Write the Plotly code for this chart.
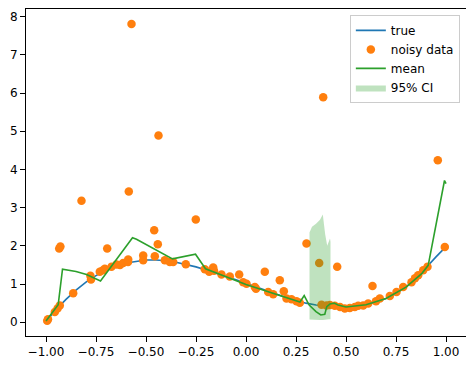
import plotly.graph_objects as go

# true function
true_x = [-1.0, -0.95, -0.9, -0.85, -0.8, -0.75, -0.7, -0.65, -0.6, -0.55, -0.5, -0.45, -0.4,
          -0.35, -0.3, -0.25, -0.2, -0.15, -0.1, -0.05, 0.0, 0.05, 0.1, 0.15, 0.2, 0.25, 0.3,
          0.35, 0.4, 0.45, 0.5, 0.55, 0.6, 0.65, 0.7, 0.75, 0.8, 0.85, 0.9, 0.95, 1.0]
true_y = [0.03, 0.33, 0.6, 0.84, 1.05, 1.22, 1.36, 1.47, 1.55, 1.60, 1.63, 1.63, 1.61,
          1.57, 1.51, 1.45, 1.37, 1.29, 1.20, 1.11, 1.02, 0.92, 0.83, 0.74, 0.65, 0.57, 0.50,
          0.45, 0.42, 0.40, 0.40, 0.42, 0.46, 0.53, 0.62, 0.75, 0.92, 1.14, 1.43, 1.71, 1.98]

# noisy observations
noisy_x = [-0.994, -0.99, -0.956, -0.9425, -0.931, -0.934, -0.928, -0.864, -0.8225, -0.778,
           -0.775, -0.731, -0.715, -0.706, -0.694, -0.6725, -0.6475, -0.63, -0.614, -0.59,
           -0.589, -0.586, -0.5725, -0.514, -0.514, -0.459, -0.456, -0.441, -0.4375, -0.406,
           -0.381, -0.364, -0.301, -0.251, -0.206, -0.184, -0.164, -0.16, -0.1225, -0.081,
           -0.034, -0.014, 0.0025, 0.044, 0.05, 0.094, 0.111, 0.136, 0.169, 0.189,
           0.2025, 0.2275, 0.2525, 0.269, 0.3025, 0.366, 0.3775, 0.386, 0.4025, 0.42,
           0.444, 0.456, 0.47, 0.494, 0.519, 0.544, 0.561, 0.586, 0.611, 0.6325,
           0.65, 0.669, 0.719, 0.7525, 0.786, 0.8275, 0.845, 0.861, 0.886, 0.9075,
           0.959, 0.994]
noisy_y = [0.04, 0.08, 0.27, 0.36, 0.44, 1.93, 1.98, 0.76, 3.18, 1.22,
           1.12, 1.32, 1.36, 1.40, 1.93, 1.45, 1.51, 1.50, 1.55, 1.58,
           1.64, 3.42, 7.81, 1.75, 1.62, 2.41, 1.73, 2.04, 4.89, 1.62,
           1.58, 1.58, 1.52, 2.69, 1.39, 1.32, 1.43, 1.35, 1.25, 1.20,
           1.25, 1.05, 1.01, 0.92, 0.88, 1.32, 0.79, 0.73, 1.10, 0.81,
           0.62, 0.60, 0.55, 0.51, 2.06, 1.55, 0.46, 5.89, 0.44, 0.45,
           0.43, 1.45, 0.40, 0.36, 0.37, 0.40, 0.43, 0.44, 0.49, 0.95,
           0.55, 0.62, 0.69, 0.79, 0.92, 1.05, 1.15, 1.23, 1.36, 1.45,
           4.24, 1.97]

# posterior mean
mean_x = [-1.0, -0.96, -0.939, -0.9175, -0.85, -0.7975, -0.731, -0.7275, -0.5675, -0.5475,
          -0.3675, -0.2525, -0.2025, -0.1, 0.0, 0.1, 0.2, 0.27, 0.291, 0.316,
          0.35, 0.374, 0.394, 0.404, 0.42, 0.441, 0.46, 0.5, 0.6, 0.7,
          0.8, 0.88, 0.911, 0.9575, 0.9775, 0.9925, 1.0]
mean_y = [0.03, 0.30, 0.46, 1.39, 1.33, 1.25, 1.10, 1.08, 2.21, 2.17,
          1.66, 1.78, 1.40, 1.20, 0.99, 0.82, 0.65, 0.53, 0.70, 0.45,
          0.28, 0.19, 0.21, 0.41, 0.48, 0.50, 0.45, 0.40, 0.46, 0.62,
          0.92, 1.28, 1.49, 2.76, 3.37, 3.71, 3.63]

# 95% credible interval (visible part)
ci_x = [0.3175, 0.33, 0.35, 0.37, 0.384, 0.388, 0.396, 0.406, 0.414, 0.42, 0.4225]
ci_upper = [2.35, 2.50, 2.58, 2.68, 2.82, 2.60, 2.30, 2.00, 2.12, 2.19, 2.10]
ci_lower = [0.07, 0.07, 0.07, 0.06, 0.06, 0.06, 0.07, 0.07, 0.08, 0.08, 0.08]

BLUE = "#1f77b4"
ORANGE = "#ff7f0e"
GREEN = "#2ca02c"

fig = go.Figure()
fig.add_trace(go.Scatter(x=true_x, y=true_y, mode="lines", name="true",
                         line=dict(color=BLUE, width=1.6)))
fig.add_trace(go.Scatter(x=noisy_x, y=noisy_y, mode="markers", name="noisy data",
                         marker=dict(color=ORANGE, size=8.5, line=dict(width=0))))
fig.add_trace(go.Scatter(x=mean_x, y=mean_y, mode="lines", name="mean",
                         line=dict(color=GREEN, width=1.6)))
fig.add_trace(go.Scatter(x=ci_x + ci_x[::-1], y=ci_upper + ci_lower[::-1],
                         mode="lines", fill="toself", name="95% CI",
                         fillcolor="rgba(44,160,44,0.3)", line=dict(width=0, color="rgba(44,160,44,0)")))

axis_common = dict(showline=True, mirror=True, linecolor="black", linewidth=1,
                   ticks="outside", ticklen=5, tickwidth=1, tickcolor="black",
                   showgrid=False, zeroline=False, automargin=False,
                   tickfont=dict(family="DejaVu Sans", size=12, color="black"))

fig.update_layout(
    width=474, height=366,
    margin=dict(l=18, r=16, t=1, b=38, autoexpand=False),
    paper_bgcolor="white", plot_bgcolor="white",
    font=dict(family="DejaVu Sans", size=12, color="black"),
    xaxis=dict(range=[-1.1, 1.1], tickvals=[-1.0, -0.75, -0.5, -0.25, 0.0, 0.25, 0.5, 0.75, 1.0],
               tickformat=".2f", **axis_common),
    yaxis=dict(range=[-0.36, 8.2], tickvals=[0, 1, 2, 3, 4, 5, 6, 7, 8], **axis_common),
    legend=dict(x=0.986, y=0.982, xanchor="right", yanchor="top",
                bgcolor="rgba(255,255,255,0.8)", bordercolor="#cccccc", borderwidth=1,
                font=dict(family="DejaVu Sans", size=12, color="black"),
                itemwidth=30, tracegroupgap=0),
    showlegend=True,
)

fig.write_html("out.html")
